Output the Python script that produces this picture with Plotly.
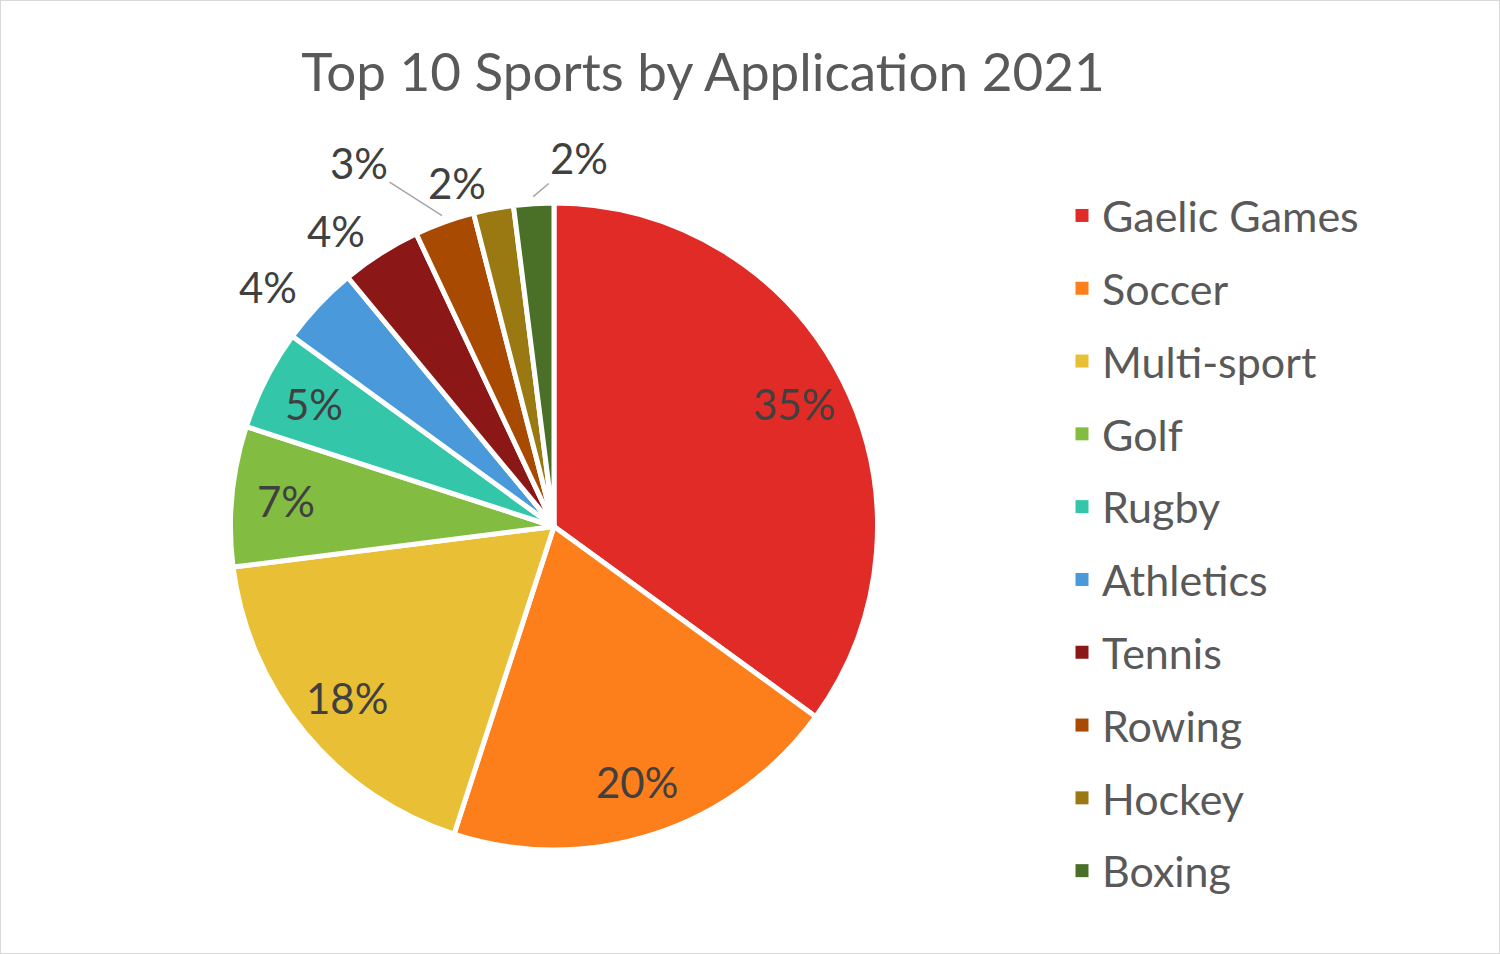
import math
import plotly.graph_objects as go

sports = ["Gaelic Games", "Soccer", "Multi-sport", "Golf", "Rugby",
          "Athletics", "Tennis", "Rowing", "Hockey", "Boxing"]
share = [35, 20, 18, 7, 5, 4, 4, 3, 2, 2]
colors = ["#E02B27", "#FD7F1B", "#E8BF35", "#82BC41", "#33C6A8",
          "#4A9ADB", "#8B1716", "#A84A02", "#9A7913", "#4A6F27"]

# labels that Excel pulled away from the slice with a leader line (pixel offsets)
leader_offsets = {"Rowing": (-83, -53), "Boxing": (46, -39)}

W, H = 1500, 954
FONT = "Lato"
GREY = "#595959"
LABEL = "#404040"

# pie placement (paper coords)
dom_x = [230 / W, 878 / W]
dom_y = [104 / H, 751 / H]
cx = sum(dom_x) / 2
cy = sum(dom_y) / 2
R = (dom_x[1] - dom_x[0]) * W / 2

fig = go.Figure()
fig.add_trace(go.Pie(
    labels=sports,
    values=share,
    sort=False,
    direction="clockwise",
    rotation=0,
    marker=dict(colors=colors, line=dict(color="white", width=5)),
    textinfo="none",
    domain=dict(x=dom_x, y=dom_y),
    showlegend=False,
    hoverinfo="label+percent",
))

# data labels placed along each slice's mid angle, like the Excel original
total = sum(share)
cum = 0
annotations = []
for name, v in zip(sports, share):
    theta = 2 * math.pi * (cum + v / 2) / total
    cum += v
    txt = f"{round(100 * v / total)}%"
    sx, sy = math.sin(theta), math.cos(theta)
    if v >= 5:
        r = 0.83 * R
        annotations.append(dict(x=cx + r * sx / W, y=cy + r * sy / H, text=txt,
                                showarrow=False, xanchor="center", yanchor="middle"))
    elif name in leader_offsets:
        r = 1.02 * R
        ax, ay = leader_offsets[name]
        annotations.append(dict(x=cx + r * sx / W, y=cy + r * sy / H, text=txt,
                                showarrow=True, ax=ax, ay=ay, arrowhead=0,
                                arrowwidth=1.5, arrowcolor="#A6A6A6", standoff=0))
    else:
        r = 1.08 * R
        annotations.append(dict(x=cx + r * sx / W, y=cy + r * sy / H, text=txt,
                                showarrow=False, xanchor="right", yanchor="middle"))
for a in annotations:
    a.update(xref="paper", yref="paper",
             font=dict(family=FONT, size=42, color=LABEL))

# legend entries drawn with placeholder traces so the spacing can be set
for i, (name, c) in enumerate(zip(sports, colors)):
    fig.add_trace(go.Scatter(
        x=[None], y=[None], mode="markers", name=name,
        legendgroup=f"g{i}",
        marker=dict(symbol="square", size=13, color=c),
    ))

fig.update_layout(
    width=W, height=H,
    paper_bgcolor="white", plot_bgcolor="white",
    margin=dict(l=0, r=0, t=0, b=0),
    title=dict(text="Top 10 Sports by Application 2021",
               x=703 / W, xanchor="center", y=1 - 72 / H, yanchor="middle",
               font=dict(family=FONT, size=53, color=GREY)),
    xaxis=dict(visible=False), yaxis=dict(visible=False),
    legend=dict(x=1062 / W, xanchor="left", y=1 - 181 / H, yanchor="top",
                font=dict(family=FONT, size=43, color=GREY),
                tracegroupgap=13.9, itemsizing="trace", bgcolor="rgba(0,0,0,0)"),
    annotations=annotations,
    shapes=[dict(type="rect", xref="paper", yref="paper", x0=0, y0=0, x1=1, y1=1,
                 line=dict(color="#D9D9D9", width=2))],
)

fig.write_html("out.html", config={"displayModeBar": False},
               post_script="document.body.style.margin='0';")
